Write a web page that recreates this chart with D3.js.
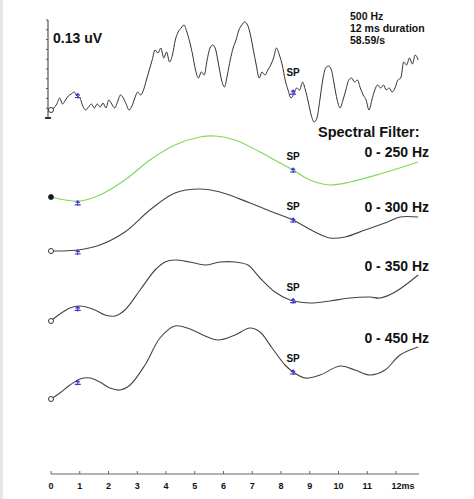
<!DOCTYPE html>
<html><head><meta charset="utf-8">
<script src="https://cdn.jsdelivr.net/npm/d3@7"></script>
<style>body{margin:0;background:#fff}text{font-family:Arial,"Liberation Sans",sans-serif;font-weight:bold;fill:#111}</style>
</head><body><svg id="c" width="474" height="499"></svg>
<script>
// raw response amplitude (units: 98 units = 0.13 uV), uniform samples over 0–12.77 ms
const rawValues=[8,10,14,20,14,18,22,24,26,22,20,12,8,11,14,10,14,11,15,10,18,14,10,16,23,20,14,8,12,20,26,23,28,38,48,58,68,65,70,60,66,56,63,78,86,90,93,86,76,63,48,40,46,43,58,70,73,68,53,38,31,43,58,70,78,88,93,96,93,83,68,53,40,46,43,48,53,60,70,63,53,38,28,20,24,30,28,36,28,16,3,-4,0,18,38,50,52,48,33,18,10,18,28,38,40,36,38,30,23,18,8,18,28,33,30,33,28,30,26,30,38,40,56,53,60,54,63,58];
const rawEnd=12.77;
// filtered traces: [ms, amplitude relative to start]
const f250=[[0,0],[0.49,-3],[1.01,-4],[1.70,2],[2.57,17],[3.44,37],[4.31,52],[5.18,60],[5.70,61],[6.40,57],[7.27,45],[7.97,34],[8.42,27],[9.01,17],[9.70,12],[10.40,15],[11.44,23],[12.77,35]];
const f300=[[0,0],[0.31,0],[0.94,1],[1.70,6],[2.57,19],[3.44,41],[4.31,58],[5.18,62],[5.88,59],[6.92,48],[7.79,38],[8.42,31],[9.18,19],[9.70,13],[10.23,14],[10.92,21],[11.62,28],[12.14,34],[12.77,34]];
const f350=[[0,0],[0.31,7],[0.66,13],[1.01,15],[1.53,11],[1.88,6],[2.23,5],[2.57,11],[3.10,31],[3.62,51],[3.97,59],[4.31,61],[4.83,59],[5.36,56],[5.88,59],[6.40,59],[6.85,56],[7.27,43],[7.79,29],[8.31,21],[8.66,19],[9.01,18],[9.70,20],[10.40,23],[11.10,24],[11.44,23],[11.97,29],[12.77,46]];
const f450=[[0,0],[0.31,6],[0.66,14],[1.01,20],[1.36,21],[1.70,17],[2.05,11],[2.40,9],[2.75,14],[3.27,34],[3.79,61],[4.31,73],[4.83,70],[5.36,63],[5.81,59],[6.40,64],[6.92,71],[7.27,67],[7.69,51],[8.14,34],[8.42,27],[8.83,21],[9.36,24],[10.05,33],[10.57,29],[11.10,24],[11.62,29],[12.14,44],[12.77,52]];
const filterLabels=["0 - 250 Hz","0 - 300 Hz","0 - 350 Hz","0 - 450 Hz"];
const infoLines=["500 Hz","12 ms duration","58.59/s"];
const xTicks=[0,1,2,3,4,5,6,7,8,9,10,11,12];
const onsetMs=0.93, spMs=8.42;

const svg=d3.select("#c");
svg.append("rect").attr("x",0).attr("y",0).attr("width",3).attr("height",499).attr("fill","#e6e6e6");
const x=d3.scaleLinear().domain([0,12]).range([51,396]);
const y=d3.scaleLinear().domain([0,98]).range([0,-98]);

const ax=svg.append("g").attr("transform","translate(0,474)");
ax.append("line").attr("x1",x(0)).attr("x2",419).attr("stroke","#666");
xTicks.forEach(t=>{
  ax.append("line").attr("x1",x(t)).attr("x2",x(t)).attr("y1",0).attr("y2",-3).attr("stroke","#666");
  ax.append("text").attr("x",x(t)+(t===12?7:0)).attr("y",15).attr("text-anchor","middle").attr("font-size",9).text(t===12?"12ms":t);
});

const sb=svg.append("g");
sb.append("line").attr("x1",48).attr("x2",48).attr("y1",20).attr("y2",118).attr("stroke","#333");
d3.range(0,11).forEach(i=>sb.append("line").attr("x1",46).attr("x2",48).attr("y1",20+i*9.8).attr("y2",20+i*9.8).attr("stroke","#555"));
sb.append("line").attr("x1",45).attr("x2",51).attr("y1",118).attr("y2",118).attr("stroke","#333").attr("stroke-width",2);
svg.append("text").attr("x",53).attr("y",43).attr("font-size",14).text("0.13 uV");
infoLines.forEach((s,i)=>svg.append("text").attr("x",350).attr("y",20+i*12).attr("font-size",10.5).text(s));
svg.append("text").attr("x",318).attr("y",137).attr("font-size",14.5).text("Spectral Filter:");

function marker(g,base,amp,t,color){
  const px=x(t), py=base+y(amp);
  g.append("path").attr("d",`M${px-3},${py+3}L${px+3},${py+3}M${px},${py}L${px},${py+4}M${px-2},${py+1}L${px},${py-1}L${px+2},${py+1}`).attr("stroke",color).attr("fill","none").attr("stroke-width",1.2);
}
function ampAt(pts,t){for(let i=1;i<pts.length;i++){if(t<=pts[i][0]){const a=pts[i-1],b=pts[i];return a[1]+(b[1]-a[1])*(t-a[0])/(b[0]-a[0]);}}return pts[pts.length-1][1];}

const rawPts=rawValues.map((v,i)=>[i*rawEnd/(rawValues.length-1),v]);
const rawBase=118;
svg.append("path").datum(rawPts).attr("fill","none").attr("stroke","#333").attr("stroke-width",1)
  .attr("d",d3.line().x(d=>x(d[0])).y(d=>rawBase+y(d[1])).curve(d3.curveMonotoneX));
svg.append("circle").attr("cx",x(0)).attr("cy",rawBase+y(rawValues[0])).attr("r",2.5).attr("fill","#fff").attr("stroke","#333");
marker(svg,rawBase,ampAt(rawPts,onsetMs)+2,onsetMs,"#3b3bcc");
marker(svg,rawBase,ampAt(rawPts,spMs)+4,spMs,"#3b3bcc");
svg.append("text").attr("x",x(spMs)).attr("y",rawBase+y(ampAt(rawPts,spMs))-19).attr("text-anchor","middle").attr("font-size",10).text("SP");

const traces=[f250,f300,f350,f450], bases=[197,251,321,399], labY=[157,212,271,343];
const colors=["#7ed957","#444","#444","#444"];
traces.forEach((pts,k)=>{
  const b=bases[k];
  svg.append("path").datum(pts).attr("fill","none").attr("stroke",colors[k]).attr("stroke-width",1.1)
    .attr("d",d3.line().x(d=>x(d[0])).y(d=>b+y(d[1])).curve(d3.curveCatmullRom.alpha(0.5)));
  svg.append("circle").attr("cx",x(0)).attr("cy",b).attr("r",2.5).attr("fill",k===0?"#111":"#fff").attr("stroke","#333");
  marker(svg,b,ampAt(pts,onsetMs)-1,onsetMs,"#3b3bcc");
  const sa=ampAt(pts,spMs);
  marker(svg,b,sa+1,spMs,"#3b3bcc");
  svg.append("text").attr("x",x(spMs)).attr("y",b+y(sa)-10).attr("text-anchor","middle").attr("font-size",10).text("SP");
  svg.append("text").attr("x",429).attr("y",labY[k]).attr("text-anchor","end").attr("font-size",14).text(filterLabels[k]);
});
</script></body></html>
